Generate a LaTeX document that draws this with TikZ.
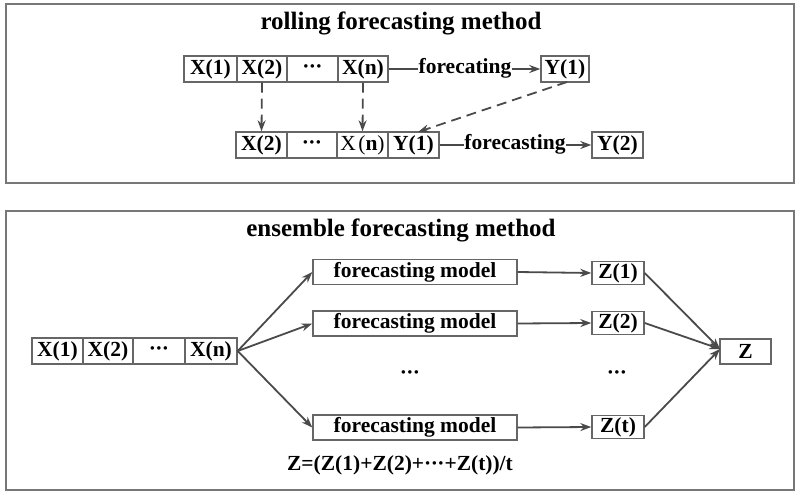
\documentclass[tikz,border=0pt]{standalone}
\usepackage{fontspec}
\setmainfont{Liberation Serif}
\usetikzlibrary{arrows.meta}
\definecolor{linec}{HTML}{4A4A4A}
\definecolor{boxc}{HTML}{666666}
\definecolor{panelc}{HTML}{777777}
\tikzset{
  cell/.style={draw=boxc,line width=1.4pt,minimum height=26pt,inner sep=0pt,font=\fontsize{21.5}{22}\selectfont\bfseries},
  ttl/.style={font=\fontsize{25}{26}\selectfont\bfseries,inner sep=0pt},
  lbl/.style={font=\fontsize{21.5}{22}\selectfont\bfseries,inner sep=0pt},
  conn/.style={draw=linec,line width=1.8pt,-{Stealth[length=11pt,width=8pt]}},
  plain/.style={draw=linec,line width=1.8pt},
  dconn/.style={draw=linec,line width=1.8pt,dash pattern=on 10pt off 6pt,-{Stealth[length=11pt,width=8pt]}},
  panel/.style={draw=panelc,line width=1.8pt}
}
\newcommand{\dts}{·\kern-0.6pt·\kern-0.6pt·}
\begin{document}
\begin{tikzpicture}[x=1pt,y=-1pt]
\useasboundingbox (0,0) rectangle (800,495);
% panels
\draw[panel] (6,4) rectangle (794,183);
\draw[panel] (6,211) rectangle (794,490);
% ---------- top panel
\node[ttl] (t1) at (401,23) {rolling forecasting method};
\node[cell,minimum width=53pt] (ax1) at (210.5,69) {X(1)};
\node[cell,minimum width=50pt] (ax2) at (262,69) {X(2)};
\node[cell,minimum width=51pt] (adt) at (312.5,69) {\dts};
\node[cell,minimum width=50pt] (axn) at (363,69) {X(n)};
\node[cell,minimum width=48pt] (ay1) at (565,69) {Y(1)};
\node[lbl] (f1) at (465,68) {forecating};
\draw[plain] (axn.east) -- (f1.west |- axn.east);
\draw[conn] (f1.east |- ay1.west) -- (ay1.west);

\node[cell,minimum width=51pt] (bx2) at (261.5,145) {X(2)};
\node[cell,minimum width=50pt] (bdt) at (312,145) {\dts};
\node[cell,minimum width=51pt] (bxn) at (362.5,145) {\textmd{X\kern2.5pt(}n\textmd{)}};
\node[cell,minimum width=51pt] (by1) at (413.5,145) {Y(1)};
\node[cell,minimum width=51pt] (by2) at (617.5,145) {Y(2)};
\node[lbl] (f2) at (515,144) {forecasting};
\draw[plain] (by1.east) -- (f2.west |- by1.east);
\draw[conn] (f2.east |- by2.west) -- (by2.west);

\draw[dconn] (ax2.south) -- (bx2.north);
\draw[dconn] (axn.south) -- (bxn.north);
\coordinate (y1s) at (567,82);
\coordinate (y1t) at (418,132);
\draw[dconn] (y1s) -- (y1t);

% ---------- bottom panel
\node[ttl] (t2) at (401,230) {ensemble forecasting method};
\node[cell,minimum width=51pt] (cx1) at (57.5,351) {X(1)};
\node[cell,minimum width=50pt] (cx2) at (108,351) {X(2)};
\node[cell,minimum width=52pt] (cdt) at (159,351) {\dts};
\node[cell,minimum width=52pt] (cxn) at (211,351) {X(n)};

\node[cell,minimum width=204pt,minimum height=25pt] (m1) at (415,272) {forecasting model};
\node[cell,minimum width=204pt,minimum height=25pt] (m2) at (415,323.5) {forecasting model};
\node[cell,minimum width=204pt,minimum height=25pt] (mt) at (415,427.5) {forecasting model};
\node[lbl] (md) at (410,375) {\dts};

\node[cell,minimum width=52pt,minimum height=23pt] (z1) at (618,273) {Z(1)};
\node[cell,minimum width=52pt,minimum height=23pt] (z2) at (618,323) {Z(2)};
\node[cell,minimum width=52pt,minimum height=23pt] (zt) at (618,427) {Z(t)};
\node[lbl] (zd) at (617,375) {\dts};

\node[cell,minimum width=51pt,minimum height=25pt] (z) at (745.5,351.5) {Z};

\node[lbl] (form) at (400,465) {Z=(Z(1)+Z(2)+\dts+Z(t))/t};

\draw[conn] (cxn.east) -- (m1.west);
\draw[conn] (cxn.east) -- (m2.west);
\draw[conn] (cxn.east) -- (mt.west);
\draw[conn] (m1.east) -- (z1.west);
\draw[conn] (m2.east) -- (z2.west);
\draw[conn] (mt.east) -- (zt.west);
\coordinate (zin) at (720,349);
\draw[conn] (z1.east) -- (zin);
\draw[conn] (z2.east) -- (zin);
\draw[conn] (zt.east) -- (zin);
\end{tikzpicture}
\end{document}
